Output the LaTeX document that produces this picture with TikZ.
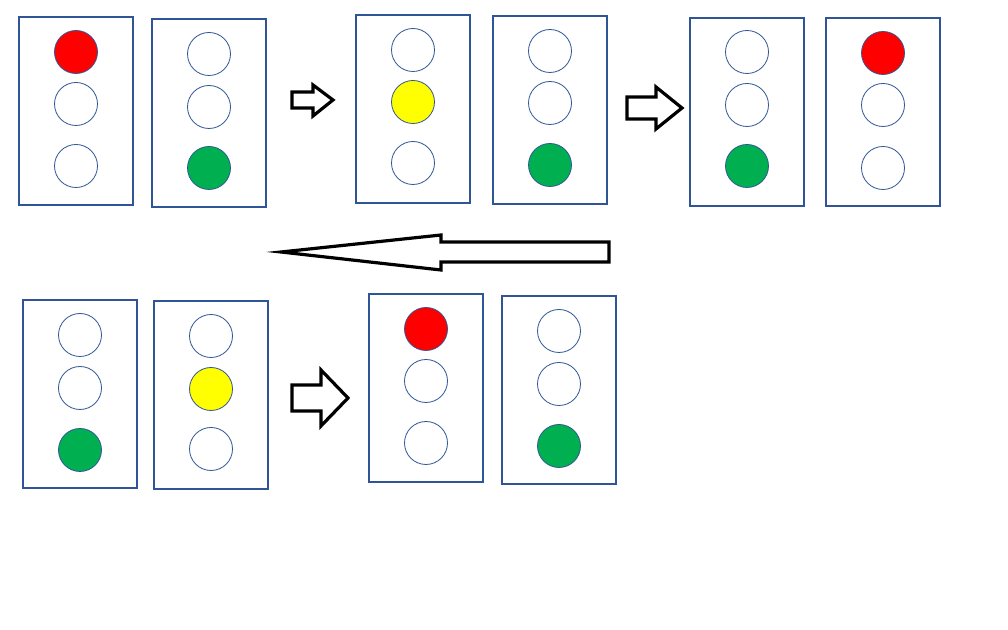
\documentclass[tikz,border=0pt]{standalone}
\begin{document}
\begin{tikzpicture}[x=0.75pt,y=-0.75pt,
  box/.style={draw={rgb,255:red,47;green,85;blue,151},line width=0.8pt},
  lamp/.style={draw={rgb,255:red,47;green,85;blue,151},line width=0.6pt},
  blockarrow/.style={draw=black,line width=2.4pt,line join=miter,fill=white}]
\definecolor{lred}{RGB}{255,0,0}
\definecolor{lyel}{RGB}{255,255,0}
\definecolor{lgrn}{RGB}{0,176,80}
\useasboundingbox (0,0) rectangle (1008,630);
\fill[white] (0,0) rectangle (1008,630);
% light: x0,y0 top-left, col1,col2,col3 fills
\newcommand{\tlight}[8]{%
  \draw[box] (#1,#2) rectangle ++(114,188);
  \draw[lamp,fill=#6] (#1+57,#3) circle (21.5);
  \draw[lamp,fill=#7] (#1+57,#4) circle (21.5);
  \draw[lamp,fill=#8] (#1+57,#5) circle (21.5);}
\tlight{19}{17}{52}{104}{166}{lred}{white}{white}
\tlight{152}{19}{54}{107}{168}{white}{white}{lgrn}
\tlight{356}{15}{50}{102}{163}{white}{lyel}{white}
\tlight{493}{16}{51}{103}{165}{white}{white}{lgrn}
\tlight{690}{18}{52}{105}{166}{white}{white}{lgrn}
\tlight{826}{18}{53}{105}{168}{lred}{white}{white}
\tlight{23}{300}{335}{388}{450}{white}{white}{lgrn}
\tlight{154}{301}{336}{389}{449}{white}{lyel}{white}
\tlight{369}{294}{329}{381}{443}{lred}{white}{white}
\tlight{502}{296}{331}{384}{446}{white}{white}{lgrn}
% arrows
\draw[blockarrow] (292,92)--(313,92)--(313,85)--(333,100)--(313,116)--(313,108)--(292,108)--cycle;
\draw[blockarrow] (627,97)--(656,97)--(656,87)--(682,108)--(656,129)--(656,119)--(627,119)--cycle;
\draw[blockarrow] (292,385)--(321,385)--(321,370)--(348,398)--(321,426)--(321,411)--(292,411)--cycle;
\draw[blockarrow] (609,242)--(441,242)--(441,235)--(281,252)--(441,270)--(441,262)--(609,262)--cycle;
\end{tikzpicture}
\end{document}
